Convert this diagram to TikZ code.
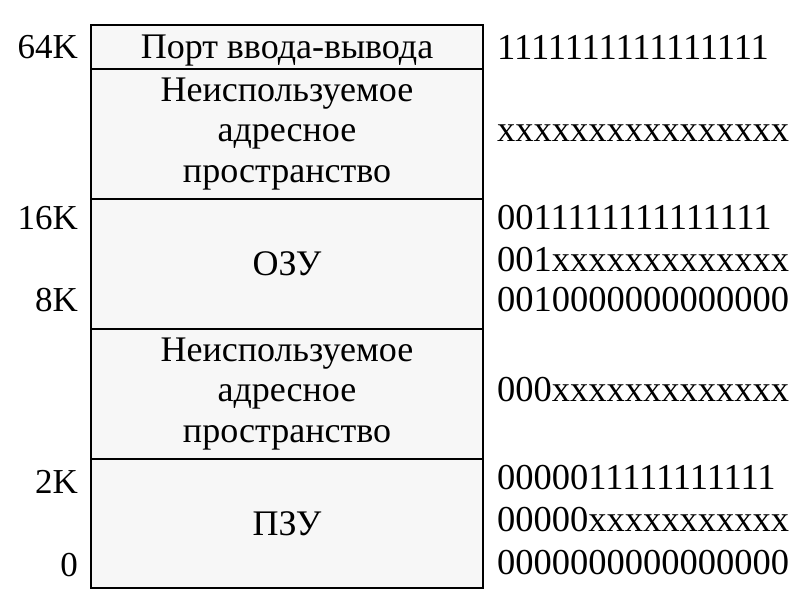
\documentclass[tikz,border=0pt]{standalone}
\usepackage{fontspec}
\setmainfont{Liberation Serif}
\begin{document}
\begin{tikzpicture}[x=1pt,y=-1pt,
  region/.style={draw=black,line width=1.6pt,fill=black!3,minimum width=392pt,inner sep=0pt,align=center,font=\fontsize{36}{40.5}\selectfont},
  addr/.style={anchor=east,inner sep=0pt,font=\fontsize{35}{36}\selectfont},
  bits/.style={anchor=west,inner sep=0pt,font=\fontsize{36.5}{36}\selectfont}]
\useasboundingbox[fill=white] (0,0) rectangle (810,610);
\node[region,minimum height=44pt,text depth=0.12em] (io) at (287,47) {Порт ввода-вывода};
\node[region,minimum height=130pt] (u1) at (287,134) {Неиспользуемое\\адресное\\пространство};
\node[region,minimum height=130pt] (ram) at (287,264) {ОЗУ};
\node[region,minimum height=130pt] (u2) at (287,394) {Неиспользуемое\\адресное\\пространство};
\node[region,minimum height=129pt] (rom) at (287,523.5) {ПЗУ};
\node[addr] (a64) at (78,47) {64K};
\node[addr] (a16) at (78,218) {16K};
\node[addr] (a8) at (78,300) {8K};
\node[addr] (a2) at (78,482) {2K};
\node[addr] (a0) at (78,565) {0};
\node[bits] (b1) at (497,47) {1111111111111111};
\node[bits] (b2) at (497,133) {xxxxxxxxxxxxxxxx};
\node[bits] (b3) at (497,218) {0011111111111111};
\node[bits] (b4) at (497,260) {001xxxxxxxxxxxxx};
\node[bits] (b5) at (497,300) {0010000000000000};
\node[bits] (b6) at (497,390) {000xxxxxxxxxxxxx};
\node[bits] (b7) at (497,478) {0000011111111111};
\node[bits] (b8) at (497,520) {00000xxxxxxxxxxx};
\node[bits] (b9) at (497,563) {0000000000000000};
\end{tikzpicture}
\end{document}
